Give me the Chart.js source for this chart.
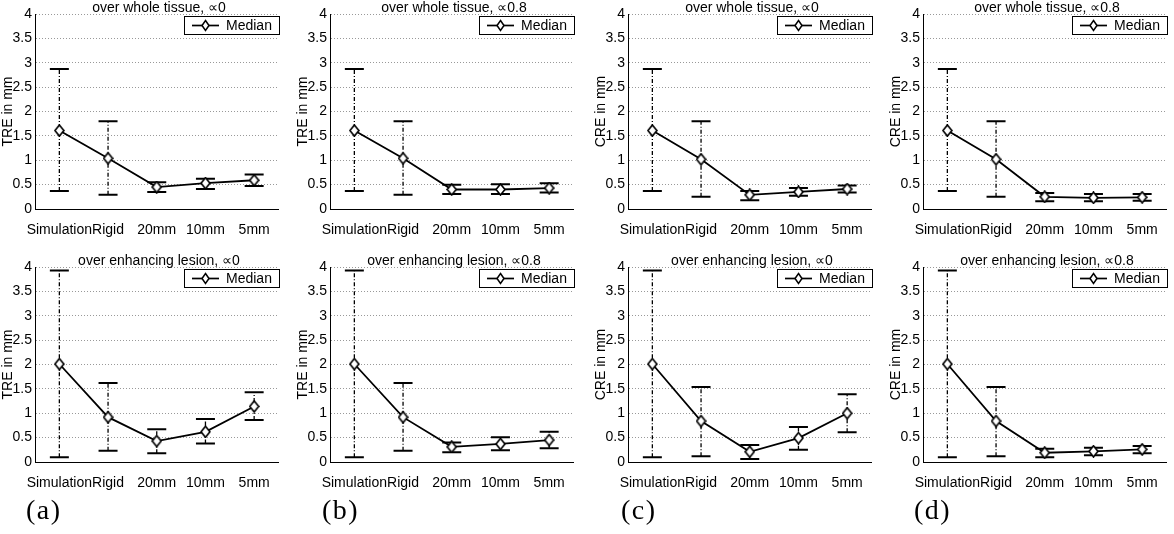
<!DOCTYPE html>
<html>
<head>
<meta charset="utf-8">
<script src="https://cdn.jsdelivr.net/npm/chart.js@4"></script>
<style>
  body { margin: 0; background: #fff; width: 1174px; height: 534px; position: relative; overflow: hidden; font-family: "Liberation Sans", Arial, sans-serif; }
  .panel { position: absolute; width: 290px; height: 250px; }
  .ttl { position: absolute; left: 35px; width: 248px; top: -1px; height: 16px; line-height: 16px; text-align: center; font-size: 14px; white-space: nowrap; }
  .legend { position: absolute; top: 16px; width: 94px; height: 17px; border: 1px solid #000; background: #fff; font-size: 14px; line-height: 17px; }
  .legend svg { position: absolute; left: 7px; top: 2px; }
  .legend span { position: absolute; left: 41px; top: 0; }
  .sub { position: absolute; top: 494px; font-family: "Liberation Serif", "Times New Roman", serif; font-size: 28px; letter-spacing: 1.5px; }
</style>
</head>
<body>
<div id="root"></div>
<div class="sub" style="left:26px">(a)</div>
<div class="sub" style="left:322px">(b)</div>
<div class="sub" style="left:621px">(c)</div>
<div class="sub" style="left:914px">(d)</div>
<script>
const categories = ['Simulation', 'Rigid', '20mm', '10mm', '5mm'];
const yTicks = [0, 0.5, 1, 1.5, 2, 2.5, 3, 3.5, 4];

// (a) TRE, whole tissue, alpha 0
const treWholeA0Med = [1.61, 1.04, 0.45, 0.53, 0.59];
const treWholeA0Lo  = [0.37, 0.29, 0.35, 0.41, 0.47];
const treWholeA0Hi  = [2.87, 1.80, 0.55, 0.62, 0.71];
// (a) TRE, enhancing lesion, alpha 0
const treLesionA0Med = [2.01, 0.92, 0.43, 0.62, 1.14];
const treLesionA0Lo  = [0.10, 0.23, 0.18, 0.38, 0.86];
const treLesionA0Hi  = [3.93, 1.62, 0.67, 0.88, 1.43];
// (b) TRE, whole tissue, alpha 0.8
const treWholeA8Med = [1.61, 1.04, 0.40, 0.40, 0.43];
const treWholeA8Lo  = [0.37, 0.29, 0.31, 0.31, 0.34];
const treWholeA8Hi  = [2.87, 1.80, 0.50, 0.51, 0.53];
// (b) TRE, enhancing lesion, alpha 0.8
const treLesionA8Med = [2.01, 0.92, 0.31, 0.37, 0.45];
const treLesionA8Lo  = [0.10, 0.23, 0.20, 0.24, 0.28];
const treLesionA8Hi  = [3.93, 1.62, 0.40, 0.51, 0.62];
// (c) CRE, whole tissue, alpha 0
const creWholeA0Med = [1.61, 1.02, 0.29, 0.35, 0.41];
const creWholeA0Lo  = [0.37, 0.25, 0.18, 0.27, 0.34];
const creWholeA0Hi  = [2.87, 1.80, 0.37, 0.43, 0.48];
// (c) CRE, enhancing lesion, alpha 0
const creLesionA0Med = [2.01, 0.84, 0.21, 0.49, 1.00];
const creLesionA0Lo  = [0.10, 0.12, 0.06, 0.25, 0.61];
const creLesionA0Hi  = [3.93, 1.54, 0.35, 0.72, 1.39];
// (d) CRE, whole tissue, alpha 0.8
const creWholeA8Med = [1.61, 1.02, 0.25, 0.23, 0.24];
const creWholeA8Lo  = [0.37, 0.25, 0.16, 0.16, 0.17];
const creWholeA8Hi  = [2.87, 1.80, 0.33, 0.31, 0.31];
// (d) CRE, enhancing lesion, alpha 0.8
const creLesionA8Med = [2.01, 0.84, 0.19, 0.22, 0.26];
const creLesionA8Lo  = [0.10, 0.12, 0.10, 0.14, 0.18];
const creLesionA8Hi  = [3.93, 1.54, 0.27, 0.29, 0.33];

const panels = [
  { left: 0,   top: 0,   title: 'over whole tissue, \u221D0',       ylabel: 'TRE in mm', med: treWholeA0Med,  lo: treWholeA0Lo,  hi: treWholeA0Hi },
  { left: 295, top: 0,   title: 'over whole tissue, \u221D0.8',     ylabel: 'TRE in mm', med: treWholeA8Med,  lo: treWholeA8Lo,  hi: treWholeA8Hi },
  { left: 593, top: 0,   title: 'over whole tissue, \u221D0',       ylabel: 'CRE in mm', med: creWholeA0Med,  lo: creWholeA0Lo,  hi: creWholeA0Hi },
  { left: 888, top: 0,   title: 'over whole tissue, \u221D0.8',     ylabel: 'CRE in mm', med: creWholeA8Med,  lo: creWholeA8Lo,  hi: creWholeA8Hi },
  { left: 0,   top: 253, title: 'over enhancing lesion, \u221D0',   ylabel: 'TRE in mm', med: treLesionA0Med, lo: treLesionA0Lo, hi: treLesionA0Hi },
  { left: 295, top: 253, title: 'over enhancing lesion, \u221D0.8', ylabel: 'TRE in mm', med: treLesionA8Med, lo: treLesionA8Lo, hi: treLesionA8Hi },
  { left: 593, top: 253, title: 'over enhancing lesion, \u221D0',   ylabel: 'CRE in mm', med: creLesionA0Med, lo: creLesionA0Lo, hi: creLesionA0Hi },
  { left: 888, top: 253, title: 'over enhancing lesion, \u221D0.8', ylabel: 'CRE in mm', med: creLesionA8Med, lo: creLesionA8Lo, hi: creLesionA8Hi },
];

const FONT = '"Liberation Sans", Arial, sans-serif';
const root = document.getElementById('root');

// tall hollow diamond marker, like the matlab 'd' marker
const diamond = document.createElement('canvas');
diamond.width = 11; diamond.height = 13;
(() => {
  const g = diamond.getContext('2d');
  g.beginPath();
  g.moveTo(5.5, 1); g.lineTo(10, 6.5); g.lineTo(5.5, 12); g.lineTo(1, 6.5); g.closePath();
  g.fillStyle = '#fff'; g.fill();
  g.lineWidth = 1.7; g.strokeStyle = '#000'; g.stroke();
})();

panels.forEach((p, idx) => {
  const div = document.createElement('div');
  div.className = 'panel';
  div.style.left = p.left + 'px';
  div.style.top = p.top + 'px';
  div.innerHTML = `<canvas id="c${idx}"></canvas>
    <div class="ttl">${p.title}</div>
    <div class="legend" style="left:${283 - 3 - 96}px">
      <svg width="30" height="13"><line x1="0" y1="6.5" x2="27" y2="6.5" stroke="#000" stroke-width="1.7"/>
      <polygon points="13.5,1.5 17,6.5 13.5,11.5 10,6.5" fill="#fff" stroke="#000" stroke-width="1.5"/></svg>
      <span>Median</span>
    </div>`;
  root.appendChild(div);

  // whiskers: one small dataset per category
  const errSets = categories.map((c, i) => ({
    data: [{ x: c, y: p.lo[i] }, { x: c, y: p.hi[i] }],
    borderColor: '#000',
    borderWidth: 1.3,
    borderDash: [4, 2, 1, 2],
    pointStyle: 'line',
    pointRadius: 9.5,
    pointBorderWidth: 2,
    pointBorderColor: '#000',
  }));

  new Chart(document.getElementById('c' + idx), {
    type: 'line',
    data: {
      labels: categories,
      datasets: [{
        label: 'Median',
        data: p.med,
        borderColor: '#000',
        borderWidth: 1.8,
        pointStyle: diamond,
      }, ...errSets]
    },
    options: {
      responsive: true,
      maintainAspectRatio: false,
      animation: false,
      events: [],
      layout: { padding: { top: 14, right: 7, bottom: 0 } },
      plugins: {
        legend: { display: false },
        tooltip: { enabled: false },
        title: { display: false }
      },
      scales: {
        x: {
          type: 'category',
          offset: true,
          grid: { display: false },
          border: { display: true, color: '#000', width: 1 },
          ticks: { color: '#000', font: { family: FONT, size: 14 }, padding: 5, autoSkip: false, maxRotation: 0, minRotation: 0 },
          afterFit: s => { s.height = 41; }
        },
        y: {
          min: 0, max: 4,
          afterBuildTicks: s => { s.ticks = yTicks.map(v => ({ value: v })); },
          grid: { color: '#999', lineWidth: 1, drawTicks: false },
          border: { display: true, color: '#000', width: 1, dash: [1, 2] },
          ticks: { color: '#000', font: { family: FONT, size: 14 }, padding: 3, callback: v => String(v) },
          title: { display: true, text: p.ylabel, color: '#000', font: { family: FONT, size: 14 }, padding: 0 },
          afterFit: s => { s.width = 35; }
        }
      }
    }
  });
});
</script>
</body>
</html>
